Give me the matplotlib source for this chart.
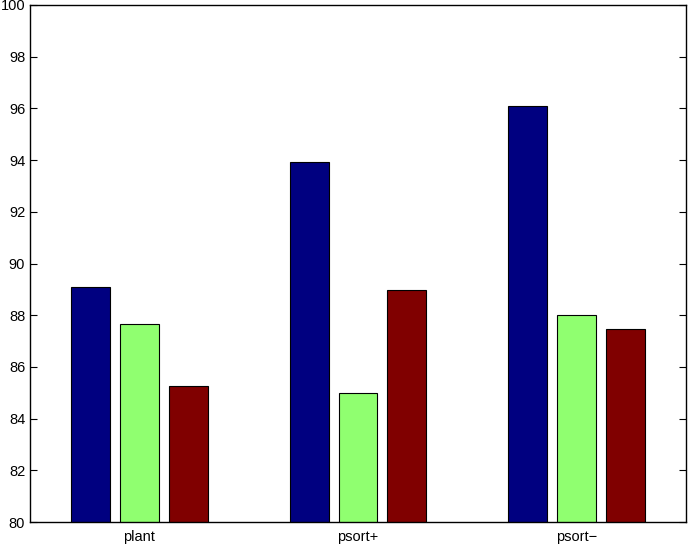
import numpy as np
import matplotlib.pyplot as plt

plt.rcParams['font.family'] = ['Liberation Sans', 'DejaVu Sans']

# Dados
categorias = ['plant', 'psort+', 'psort\u2212']
serie1 = [89.08, 93.93, 96.08]
serie2 = [87.66, 84.99, 88.01]
serie3 = [85.26, 88.97, 87.47]
cores = ['#000080', '#90FF70', '#800000']

fig = plt.figure(figsize=(6.89, 5.44), dpi=100)
ax = fig.add_axes([30 / 689, 1 - 522 / 544, 656 / 689, 517 / 544])

x = np.arange(1, len(categorias) + 1)
passo = 0.2237
largura = 0.178
for i, (s, c) in enumerate(zip([serie1, serie2, serie3], cores)):
    ax.bar(x + (i - 1) * passo, s, width=largura, color=c,
           edgecolor='black', linewidth=0.8, zorder=2)

ax.set_xlim(0.5, 3.5)
ax.set_ylim(80, 100)
ax.set_yticks(np.arange(80, 101, 2))
ax.set_xticks(x)
ax.set_xticklabels(categorias)
ax.tick_params(axis='x', length=0, labelsize=10.5, pad=6)
ax.tick_params(axis='y', direction='in', right=True, length=5, labelsize=10.5)
for sp in ax.spines.values():
    sp.set_linewidth(1.0)

fig.savefig('out.png', dpi=100)
